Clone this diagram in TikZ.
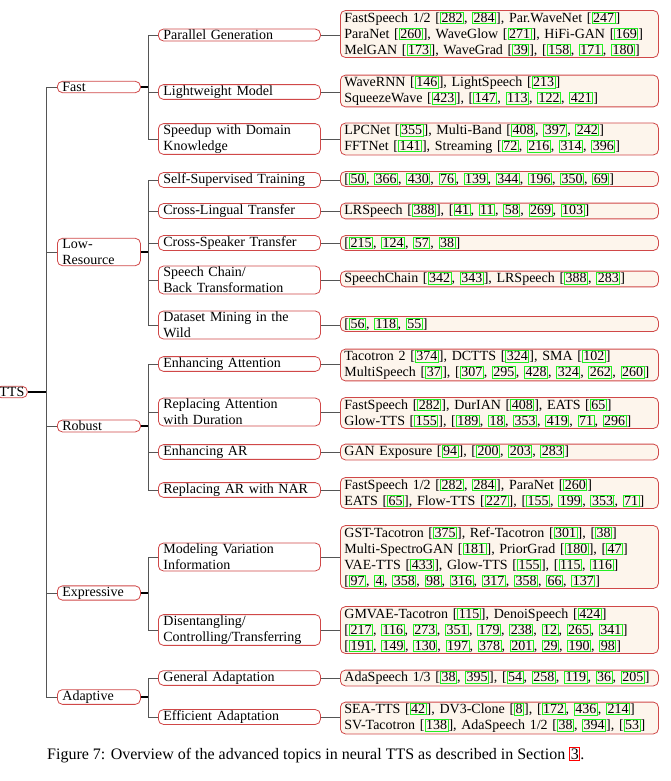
\documentclass[tikz,border=0pt]{standalone}
\usepackage{fontspec}
\setmainfont{Liberation Serif}
\definecolor{bred}{HTML}{D04848}
\definecolor{leaffill}{HTML}{FDF5EC}
\definecolor{cgreen}{HTML}{22EE22}
\definecolor{edgegray}{HTML}{555555}
\setlength\fboxsep{0.5pt}
\setlength\fboxrule{1pt}
\newcommand\B[1]{\textcolor{cgreen}{\fbox{\textcolor{black}{#1}}}}
\newcommand\Rb[1]{\textcolor{red}{\fbox{\textcolor{black}{#1}}}}
\tikzset{
 base/.style={draw=bred, rounded corners=5pt, line width=0.8pt, align=left, inner ysep=1pt, font=\fontsize{14}{16}\selectfont},
 lone/.style={base, fill=white, text width=73pt, inner xsep=5pt, anchor=west},
 ltwo/.style={base, fill=white, text width=152pt, inner xsep=5pt, anchor=west},
 leaf/.style={base, fill=leaffill, text width=310pt, inner xsep=4pt, anchor=west},
 root/.style={base, fill=white, inner xsep=3pt, anchor=west},
 edge/.style={draw=edgegray, line width=0.9pt},
}
\begin{document}
\begin{tikzpicture}[x=1pt,y=-1pt]
\useasboundingbox (0,0) rectangle (670,781);
\node[root] (tts) at (-4,392) {TTS};
% level 1
\node[lone] (fast) at (57,87) {Fast};
\node[lone] (low) at (57,252) {Low-\\Resource};
\node[lone] (rob) at (57,426) {Robust};
\node[lone] (exp) at (57,593) {Expressive};
\node[lone] (ada) at (57,697) {Adaptive};
% level 2
\node[ltwo] (f1) at (158,35) {Parallel Generation};
\node[ltwo] (f2) at (158,92) {Lightweight Model};
\node[ltwo] (f3) at (158,139) {Speedup with Domain\\Knowledge};
\node[ltwo] (l1) at (158,180) {Self-Supervised Training};
\node[ltwo] (l2) at (158,211) {Cross-Lingual Transfer};
\node[ltwo] (l3) at (158,243) {Cross-Speaker Transfer};
\node[ltwo] (l4) at (158,280) {Speech Chain/\\Back Transformation};
\node[ltwo] (l5) at (158,325) {Dataset Mining in the\\Wild};
\node[ltwo] (r1) at (158,364) {Enhancing Attention};
\node[ltwo] (r2) at (158,412) {Replacing Attention\\with Duration};
\node[ltwo] (r3) at (158,452) {Enhancing AR};
\node[ltwo] (r4) at (158,490) {Replacing AR with NAR};
\node[ltwo] (e1) at (158,557) {Modeling Variation\\Information};
\node[ltwo] (e2) at (158,630) {Disentangling/\\Controlling/Transferring};
\node[ltwo] (a1) at (158,678) {General Adaptation};
\node[ltwo] (a2) at (158,717) {Efficient Adaptation};
% leaves
\node[leaf] (F1) at (340,34) {FastSpeech 1/2 [\B{282}, \B{284}], Par.WaveNet [\B{247}]\\ParaNet [\B{260}], WaveGlow [\B{271}], HiFi-GAN [\B{169}]\\MelGAN [\B{173}], WaveGrad [\B{39}], [\B{158}, \B{171}, \B{180}]};
\node[leaf] (F2) at (340,91) {WaveRNN [\B{146}], LightSpeech [\B{213}]\\SqueezeWave [\B{423}], [\B{147}, \B{113}, \B{122}, \B{421}]};
\node[leaf] (F3) at (340,139) {LPCNet [\B{355}], Multi-Band [\B{408}, \B{397}, \B{242}]\\FFTNet [\B{141}], Streaming [\B{72}, \B{216}, \B{314}, \B{396}]};
\node[leaf] (L1) at (340,179) {[\B{50}, \B{366}, \B{430}, \B{76}, \B{139}, \B{344}, \B{196}, \B{350}, \B{69}]};
\node[leaf] (L2) at (340,211) {LRSpeech [\B{388}], [\B{41}, \B{11}, \B{58}, \B{269}, \B{103}]};
\node[leaf] (L3) at (340,243) {[\B{215}, \B{124}, \B{57}, \B{38}]};
\node[leaf] (L4) at (340,279) {SpeechChain [\B{342}, \B{343}], LRSpeech [\B{388}, \B{283}]};
\node[leaf] (L5) at (340,324) {[\B{56}, \B{118}, \B{55}]};
\node[leaf] (R1) at (340,365) {Tacotron 2 [\B{374}], DCTTS [\B{324}], SMA [\B{102}]\\MultiSpeech [\B{37}], [\B{307}, \B{295}, \B{428}, \B{324}, \B{262}, \B{260}]};
\node[leaf] (R2) at (340,413) {FastSpeech [\B{282}], DurIAN [\B{408}], EATS [\B{65}]\\Glow-TTS [\B{155}], [\B{189}, \B{18}, \B{353}, \B{419}, \B{71}, \B{296}]};
\node[leaf] (R3) at (340,452) {GAN Exposure [\B{94}], [\B{200}, \B{203}, \B{283}]};
\node[leaf] (R4) at (340,493) {FastSpeech 1/2 [\B{282}, \B{284}], ParaNet [\B{260}]\\EATS [\B{65}], Flow-TTS [\B{227}], [\B{155}, \B{199}, \B{353}, \B{71}]};
\node[leaf] (E1) at (340,557) {GST-Tacotron [\B{375}], Ref-Tacotron [\B{301}], [\B{38}]\\Multi-SpectroGAN [\B{181}], PriorGrad [\B{180}], [\B{47}]\\VAE-TTS [\B{433}], Glow-TTS [\B{155}], [\B{115}, \B{116}]\\{}[\B{97}, \B{4}, \B{358}, \B{98}, \B{316}, \B{317}, \B{358}, \B{66}, \B{137}]};
\node[leaf] (E2) at (340,630) {GMVAE-Tacotron [\B{115}], DenoiSpeech [\B{424}]\\{}[\B{217}, \B{116}, \B{273}, \B{351}, \B{179}, \B{238}, \B{12}, \B{265}, \B{341}]\\{}[\B{191}, \B{149}, \B{130}, \B{197}, \B{378}, \B{201}, \B{29}, \B{190}, \B{98}]};
\node[leaf] (A1) at (340,678) {AdaSpeech 1/3 [\B{38}, \B{395}], [\B{54}, \B{258}, \B{119}, \B{36}, \B{205}]};
\node[leaf] (A2) at (340,718) {SEA-TTS [\B{42}], DV3-Clone [\B{8}], [\B{172}, \B{436}, \B{214}]\\SV-Tacotron [\B{138}], AdaSpeech 1/2 [\B{38}, \B{394}], [\B{53}]};
% edges root
\draw[line width=1.2pt] (tts.east) -- (46,392);
\foreach \c in {fast,low,rob,exp,ada} \draw[edge] (46,392) |- (\c.west);
% edges level1 -> level2
\foreach \p/\cs in {fast/{f1,f2,f3},low/{l1,l2,l3,l4,l5},rob/{r1,r2,r3,r4},exp/{e1,e2},ada/{a1,a2}}{
  \draw[line width=1.2pt] (\p.east) -- (\p.east -| 148,0);
  \foreach \c in \cs \draw[edge] (\p.east -| 148,0) |- (\c.west);
}
% edges level2 -> leaves
\foreach \c/\l in {f1/F1,f2/F2,f3/F3,l1/L1,l2/L2,l3/L3,l4/L4,l5/L5,r1/R1,r2/R2,r3/R3,r4/R4,e1/E1,e2/E2,a1/A1,a2/A2}
  \draw[edge] (\c.east) -- (\c.east -| \l.west);
\node[anchor=west, font=\fontsize{16}{18}\selectfont, inner sep=0pt] (cap) at (47,755) {Figure 7: Overview of the advanced topics in neural TTS as described in Section \Rb{3}.};
\end{tikzpicture}
\end{document}
